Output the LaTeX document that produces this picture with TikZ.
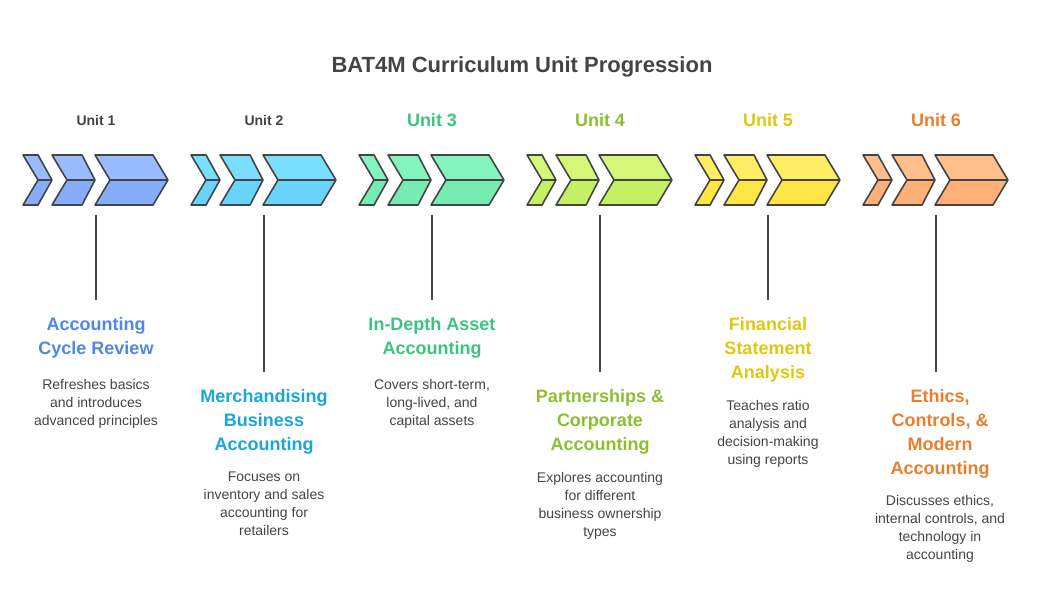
\documentclass[tikz,border=0pt]{standalone}
\usepackage{fontspec}
\setmainfont{Liberation Sans}
\definecolor{ink}{HTML}{444444}
\definecolor{aT}{HTML}{98BCFF}\definecolor{aB}{HTML}{86ACFA}\definecolor{aX}{HTML}{4F86E8}
\definecolor{bT}{HTML}{7ADEFF}\definecolor{bB}{HTML}{68D4FC}\definecolor{bX}{HTML}{1AA6D8}
\definecolor{cT}{HTML}{84F4BE}\definecolor{cB}{HTML}{74ECB2}\definecolor{cX}{HTML}{3CC47F}
\definecolor{dT}{HTML}{D4F778}\definecolor{dB}{HTML}{C6F064}\definecolor{dX}{HTML}{8CBF2E}
\definecolor{eT}{HTML}{FFEE64}\definecolor{eB}{HTML}{FFE646}\definecolor{eX}{HTML}{E0C70F}
\definecolor{fT}{HTML}{FFBE8C}\definecolor{fB}{HTML}{FFB078}\definecolor{fX}{HTML}{E87F2C}
\begin{document}
\begin{tikzpicture}[x=1pt,y=-1pt,
  edge/.style={draw=ink,line width=1.6pt,line join=round},
  ttl/.style={font=\bfseries\fontsize{18}{24}\selectfont,align=center,anchor=north,inner sep=0pt},
  dsc/.style={font=\fontsize{14}{18}\selectfont,align=center,anchor=north,inner sep=0pt,text=ink},
  unl/.style={font=\bfseries\fontsize{14}{16}\selectfont,inner sep=0pt},
  unc/.style={font=\bfseries\fontsize{18}{20}\selectfont,inner sep=0pt}]
\useasboundingbox (0,0) rectangle (1044,612);
\newcommand\unitchev[4]{% x0, top color, bottom color, name
 \begin{scope}[shift={(#1,0)}]
  \foreach \a/\n/\b/\t in {0/15/15/29, 29/44/59/72, 72/87/130/145}{
   \fill[#2] (\a,155) -- (\b,155) -- (\t,180) -- (\n,180) -- cycle;
   \fill[#3] (\a,205) -- (\b,205) -- (\t,180) -- (\n,180) -- cycle;
   \draw[edge] (\a,155) -- (\b,155) -- (\t,180) -- (\b,205) -- (\a,205) -- (\n,180) -- cycle;
   \draw[edge] (\n,180) -- (\t,180);
  }
  \coordinate (#4) at (73,215);
 \end{scope}}
\node[font=\bfseries\fontsize{22}{26}\selectfont,text=ink] (title) at (522,67) {BAT4M Curriculum Unit Progression};
% unit 1
\node[unl,text=ink] (u1) at (96,120) {Unit 1};
\unitchev{23}{aT}{aB}{c1}
\coordinate (e1) at (96,300);
\draw[edge] (c1) -- (e1);
\node[ttl,text=aX] (t1) at (96,317) {Accounting\\Cycle Review};
\node[dsc] (d1) at (96,379) {Refreshes basics\\and introduces\\advanced principles};
% unit 2
\node[unl,text=ink] (u2) at (264,120) {Unit 2};
\unitchev{191}{bT}{bB}{c2}
\coordinate (e2) at (264,372);
\draw[edge] (c2) -- (e2);
\node[ttl,text=bX] (t2) at (264,389) {Merchandising\\Business\\Accounting};
\node[dsc] (d2) at (264,472) {Focuses on\\inventory and sales\\accounting for\\retailers};
% unit 3
\node[unc,text=cX] (u3) at (432,120) {Unit 3};
\unitchev{359}{cT}{cB}{c3}
\coordinate (e3) at (432,300);
\draw[edge] (c3) -- (e3);
\node[ttl,text=cX] (t3) at (432,317) {In-Depth Asset\\Accounting};
\node[dsc] (d3) at (432,379) {Covers short-term,\\long-lived, and\\capital assets};
% unit 4
\node[unc,text=dX] (u4) at (600,120) {Unit 4};
\unitchev{527}{dT}{dB}{c4}
\coordinate (e4) at (600,372);
\draw[edge] (c4) -- (e4);
\node[ttl,text=dX] (t4) at (600,389) {Partnerships \&\\Corporate\\Accounting};
\node[dsc] (d4) at (600,472) {Explores accounting\\for different\\business ownership\\types};
% unit 5
\node[unc,text=eX] (u5) at (768,120) {Unit 5};
\unitchev{695}{eT}{eB}{c5}
\coordinate (e5) at (768,300);
\draw[edge] (c5) -- (e5);
\node[ttl,text=eX] (t5) at (768,317) {Financial\\Statement\\Analysis};
\node[dsc] (d5) at (768,400) {Teaches ratio\\analysis and\\decision-making\\using reports};
% unit 6
\node[unc,text=fX] (u6) at (936,120) {Unit 6};
\unitchev{863}{fT}{fB}{c6}
\coordinate (e6) at (936,372);
\draw[edge] (c6) -- (e6);
\node[ttl,text=fX] (t6) at (940,389) {Ethics,\\Controls, \&\\Modern\\Accounting};
\node[dsc] (d6) at (940,495) {Discusses ethics,\\internal controls, and\\technology in\\accounting};
\end{tikzpicture}
\end{document}
